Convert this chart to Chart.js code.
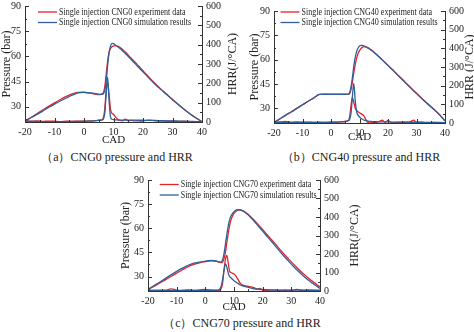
<!DOCTYPE html>
<html>
<head>
<meta charset="utf-8">
<script src="https://cdn.jsdelivr.net/npm/chart.js@4.4.1/dist/chart.umd.min.js"></script>
<style>
  html, body { margin: 0; padding: 0; background: #fff; width: 474px; height: 332px; overflow: hidden; position: relative; }
  canvas { position: absolute; }
  .cap { position: absolute; font: 12px "Liberation Serif", serif; color: #222; white-space: nowrap; transform: translate(-50%, -50%); }
</style>
</head>
<body>
<canvas id="ca"></canvas>
<canvas id="cb"></canvas>
<canvas id="cc"></canvas>
<div class="cap" style="left:117px;top:157px">（a）CNG0 pressure and HRR</div>
<div class="cap" style="left:361px;top:157px">（b）CNG40 pressure and HRR</div>
<div class="cap" style="left:242px;top:323px">（c）CNG70 pressure and HRR</div>
<script>
// crank angle grid shared by every curve
const cad = [-20, -18, -16, -14, -12, -10, -8, -6, -4, -2, 0, 2, 4,
  5, 5.5, 6, 6.5, 7, 7.5, 8, 8.5, 9, 9.5, 10, 10.5, 11, 11.5, 12,
  13, 14, 15, 16, 17, 18, 19, 20, 21, 22,
  24, 26, 28, 29, 30, 32, 34, 36, 38, 40];

const pressureTicks = [30, 45, 60, 75, 90];
const cadTicks = [-20, -10, 0, 10, 20, 30, 40];

// (a) CNG0
const pExpA = [21.6, 23.7, 25.9, 28.1, 30.3, 32.4, 34.4, 36.2, 37.7, 38.6, 38.7, 38.2, 37.6,
  37.3, 37.3, 37.6, 38.2, 41.5, 49, 57, 62.5, 64.8, 65.8, 66.2, 66.4, 66.3, 66.0, 65.6,
  64.3, 62.6, 60.8, 59.0, 57.1, 55.3, 53.4, 51.5, 49.6, 47.7,
  44.1, 40.7, 37.6, 36.0, 34.4, 31.4, 28.5, 25.8, 23.4, 21.2];
const pSimA = [21.6, 23.5, 25.5, 27.5, 29.6, 31.6, 33.5, 35.3, 37.0, 38.3, 38.6, 38.3, 37.8,
  37.5, 37.4, 37.5, 37.7, 39.5, 45, 54.5, 62, 66.3, 67.8, 67.6, 67.0, 66.4, 65.7, 65.0,
  63.4, 61.7, 60.0, 58.2, 56.4, 54.5, 52.7, 50.8, 49.0, 47.1,
  43.6, 40.4, 37.4, 35.8, 34.3, 31.3, 28.4, 25.8, 23.4, 21.2];
const hExpA = [10, 4, 6, 3, 5, 4, 2, 4, 3, 5, 4, 6, 7,
  10, 9, 12, 20, 60, 160, 205, 140, 65, 45, 40, 30, 20, 14, 10,
  6, 15, 7, 8, 6, 6, 5, 5, 8, 10,
  6, 5, 4, 4, 4, 3, 3, 2, 2, 1];
const hSimA = [3, 3, 3, 2, 2, 2, 2, 2, 3, 3, 4, 5, 7,
  8, 9, 10, 14, 40, 140, 232, 110, 25, 14, 12, 11, 11, 10, 10,
  10, 10, 10, 10, 10, 9, 9, 9, 8, 8,
  8, 7, 6, 6, 6, 5, 4, 3, 2, 1];

// (b) CNG40
const pExpB = [21.3, 23.5, 25.7, 27.8, 30.0, 32.2, 34.4, 36.5, 38.6, 38.7, 38.6, 38.6, 38.6,
  38.6, 38.6, 38.7, 39.0, 41.5, 46, 52, 57, 61, 63.8, 65.6, 66.8, 67.6, 68.0, 68.1,
  67.4, 66.2, 64.8, 63.2, 61.6, 59.9, 58.2, 56.5, 54.8, 53.1,
  49.6, 46.2, 42.7, 41.0, 39.3, 36.0, 32.8, 29.6, 26.3, 22.4];
const pSimB = [21.3, 23.5, 25.7, 27.8, 30.0, 32.2, 34.4, 36.5, 38.6, 38.7, 38.7, 38.7, 38.7,
  38.7, 38.7, 38.8, 39.5, 43, 49, 56, 61.5, 65, 67.2, 68.4, 68.8, 68.8, 68.5, 68.1,
  67.1, 66.0, 64.6, 63.1, 61.5, 59.8, 58.1, 56.4, 54.7, 53.0,
  49.5, 46.0, 42.5, 40.8, 39.1, 35.8, 32.6, 29.5, 26.2, 22.3];
const hExpB = [2, 5, 8, 3, 6, 4, 5, 3, 4, 3, 5, 4, 6,
  8, 10, 12, 30, 90, 137, 110, 80, 67, 60, 55, 50, 45, 40, 25,
  2, 0, 3, 4, 8, 15, 3, 14, 4, 2,
  3, 4, 8, 15, 3, 3, 2, 3, 2, 1];
const hSimB = [4, 4, 3, 3, 3, 3, 3, 3, 3, 3, 4, 5, 7,
  8, 10, 12, 18, 50, 140, 212, 120, 60, 42, 32, 26, 20, 16, 14,
  10, 8, 7, 7, 6, 6, 6, 6, 5, 5,
  5, 5, 4, 4, 4, 4, 3, 3, 3, 2];

// (c) CNG70
const pExpC = [22.0, 23.8, 25.8, 27.9, 30.0, 32.1, 34.2, 36.1, 37.5, 38.5, 39.2, 39.7, 39.4,
  38.8, 38.6, 39.0, 41, 45, 51, 57, 62, 65.5, 67.7, 69.2, 70.2, 70.9, 71.3, 71.5,
  71.0, 70.0, 68.6, 66.9, 65.1, 63.1, 61.1, 59.1, 57.1, 55.1,
  51.0, 46.9, 42.9, 41.0, 39.1, 35.4, 32.0, 29.0, 26.2, 23.6];
const pSimC = [22.0, 24.2, 26.4, 28.7, 31.0, 33.2, 35.2, 37.0, 38.3, 39.0, 39.6, 40.0, 39.6,
  39.0, 38.9, 40.5, 44, 50, 56, 61.5, 65.5, 67.8, 69.3, 70.3, 71.0, 71.4, 71.6, 71.5,
  70.8, 69.7, 68.2, 66.4, 64.5, 62.4, 60.3, 58.2, 56.1, 54.0,
  49.8, 45.6, 41.5, 39.6, 37.7, 34.0, 30.7, 27.7, 25.0, 22.6];
const hExpC = [4, 3, 5, 4, 12, 5, 3, 6, 3, 5, 9, 4, 3,
  5, 12, 40, 110, 170, 193, 150, 105, 100, 95, 92, 85, 72, 60, 45,
  32, 28, 25, 22, 18, 10, 14, 4, 3, 4,
  6, 3, 4, 3, 3, 8, 3, 4, 3, 2];
const hSimC = [3, 3, 2, 2, 2, 2, 3, 3, 3, 4, 4, 4, 5,
  10, 25, 60, 110, 146, 130, 95, 78, 70, 62, 56, 50, 45, 40, 34,
  28, 24, 20, 16, 12, 11, 9, 8, 7, 6,
  5, 5, 5, 5, 5, 5, 4, 4, 4, 4];

const RED = '#e4222b';
const BLUE = '#2f5f98';
const INK = '#222';

Chart.defaults.font.family = '"Liberation Serif", "Times New Roman", serif';
Chart.defaults.font.size = 10;
Chart.defaults.color = INK;

const pts = vals => cad.map((x, i) => ({ x, y: vals[i] }));

// inward ticks, right-hand title (reads bottom to top) and the in-plot legend
const panelDeco = {
  id: 'panel',
  afterDraw(chart, args, o) {
    const { ctx, chartArea: a, scales } = chart;
    ctx.save();
    ctx.strokeStyle = '#333';
    ctx.lineWidth = 1;
    ctx.beginPath();
    for (let v = -20; v <= 40; v += 5) {
      const x = Math.round(scales.x.getPixelForValue(v)) + 0.5;
      ctx.moveTo(x, a.bottom);
      ctx.lineTo(x, a.bottom - (v % 10 === 0 ? 4 : 2));
    }
    for (let v = 22.5; v <= 90; v += 7.5) {
      const y = Math.round(scales.p.getPixelForValue(v)) + 0.5;
      ctx.moveTo(a.left, y);
      ctx.lineTo(a.left + (pressureTicks.includes(v) ? 4 : 2), y);
    }
    for (let v = 50; v <= 600; v += 50) {
      const y = Math.round(scales.h.getPixelForValue(v)) + 0.5;
      ctx.moveTo(a.right, y);
      ctx.lineTo(a.right - (v % 100 === 0 ? 4 : 2), y);
    }
    ctx.stroke();

    ctx.fillStyle = INK;
    ctx.font = '12px "Liberation Serif", serif';
    ctx.textAlign = 'center';
    ctx.textBaseline = 'middle';
    ctx.translate(a.right + o.titleDx, (a.top + a.bottom) / 2);
    ctx.rotate(-Math.PI / 2);
    ctx.fillText(o.rightTitle, 0, 0);
    ctx.restore();

    ctx.save();
    ctx.font = '10px "Liberation Serif", serif';
    ctx.textBaseline = 'middle';
    o.legend.forEach((item, i) => {
      const x = a.left + o.legendDx;
      const y = a.top + o.legendDy + i * 10.5;
      ctx.strokeStyle = item.color;
      ctx.lineWidth = 1.3;
      ctx.beginPath();
      ctx.moveTo(x, y);
      ctx.lineTo(x + 19, y);
      ctx.stroke();
      ctx.save();
      ctx.translate(x + 21, y);
      ctx.scale(0.8, 1);
      ctx.fillStyle = INK;
      ctx.fillText(item.text, 0, 0);
      ctx.restore();
    });
    ctx.restore();
  }
};

function makePanel(id, box, fuel, series, deco) {
  const cv = document.getElementById(id);
  cv.width = box.w;
  cv.height = box.h;
  cv.style.left = box.left + 'px';
  cv.style.top = box.top + 'px';
  const expLabel = 'Single injection ' + fuel + ' experiment data';
  const simLabel = 'Single injection ' + fuel + ' simulation results';
  const line = (label, vals, color, axis, order) => ({
    label, data: pts(vals), yAxisID: axis, borderColor: color,
    borderWidth: 1.3, pointRadius: 0, cubicInterpolationMode: 'monotone', order
  });
  new Chart(cv, {
    type: 'line',
    data: {
      datasets: [
        line(simLabel, series.hSim, BLUE, 'h', 1),
        line(simLabel, series.pSim, BLUE, 'p', 2),
        line(expLabel, series.hExp, RED, 'h', 3),
        line(expLabel, series.pExp, RED, 'p', 4)
      ]
    },
    options: {
      responsive: false,
      animation: false,
      layout: { padding: { top: 8, left: 0, right: 0, bottom: 0 } },
      plugins: {
        legend: { display: false },
        tooltip: { enabled: false },
        panel: {
          rightTitle: deco.rightTitle, titleDx: deco.titleDx,
          legendDx: deco.legendDx, legendDy: deco.legendDy,
          legend: [{ text: expLabel, color: RED }, { text: simLabel, color: BLUE }]
        }
      },
      scales: {
        x: {
          type: 'linear', min: -20, max: 40,
          afterBuildTicks: s => { s.ticks = cadTicks.map(v => ({ value: v })); },
          afterFit: s => { s.height = box.xh; },
          grid: { display: false, drawTicks: false },
          border: { display: true, color: '#333', width: 1 },
          ticks: { padding: 4, maxRotation: 0 },
          title: { display: true, text: 'CAD', font: { size: 11 }, padding: 0 }
        },
        p: {
          position: 'left', min: 21, max: 90,
          afterBuildTicks: s => { s.ticks = pressureTicks.map(v => ({ value: v })); },
          afterFit: s => { s.width = box.lw; },
          grid: { display: false, drawTicks: false },
          border: { display: true, color: '#333', width: 1 },
          ticks: { padding: 4 },
          title: { display: true, text: 'Pressure (bar)', font: { size: 12 }, padding: 0 }
        },
        h: {
          position: 'right', min: 0, max: 600,
          ticks: { stepSize: 100, padding: 4 },
          afterFit: s => { s.width = box.rw; },
          grid: { display: false, drawTicks: false },
          border: { display: true, color: '#333', width: 1 }
        }
      }
    },
    plugins: [panelDeco]
  });
}

makePanel('ca', { left: 0, top: -4, w: 240, h: 151, lw: 25, rw: 38, xh: 25 }, 'CNG0',
  { pExp: pExpA, pSim: pSimA, hExp: hExpA, hSim: hSimA },
  { rightTitle: 'HRR(J/°CA)', titleDx: 31, legendDx: 13, legendDy: 6 });
makePanel('cb', { left: 248, top: 1, w: 228, h: 143, lw: 26, rw: 31, xh: 21 }, 'CNG40',
  { pExp: pExpB, pSim: pSimB, hExp: hExpB, hSim: hSimB },
  { rightTitle: 'HRR (J/°CA)', titleDx: 25, legendDx: 6.5, legendDy: 1 });
makePanel('cc', { left: 119, top: 170, w: 242, h: 144, lw: 29, rw: 41, xh: 23 }, 'CNG70',
  { pExp: pExpC, pSim: pSimC, hExp: hExpC, hSim: hSimC },
  { rightTitle: 'HRR(J/°CA)', titleDx: 35, legendDx: 11.7, legendDy: 4.5 });
</script>
</body>
</html>
